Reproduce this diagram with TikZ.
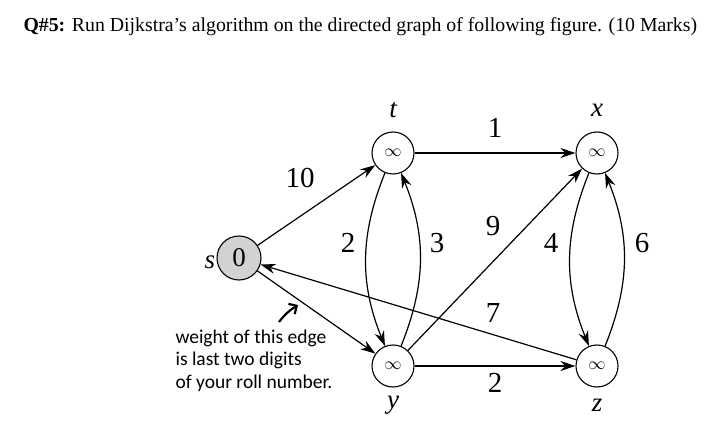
\documentclass[tikz,border=0pt]{standalone}
\usepackage{fontspec}
\setmainfont{Liberation Serif}
\newfontfamily\sansf{Carlito}
\usetikzlibrary{arrows.meta}
\begin{document}
\begin{tikzpicture}[x=1pt,y=-1pt,
  vert/.style={circle,draw,line width=1.1pt,minimum size=42pt,inner sep=0pt,font=\fontsize{19}{19}\selectfont},
  edge/.style={-{Stealth[length=15pt,width=10pt]},line width=1.2pt},
  wt/.style={font=\fontsize{29}{29}\selectfont},
  nm/.style={font=\fontsize{27}{27}\selectfont\itshape}]
\useasboundingbox (0,0) rectangle (717,443);
\node[anchor=west,font=\fontsize{19.8}{22}\selectfont] (title) at (20,27) {\textbf{Q\#5:} Run Dijkstra’s algorithm on the directed graph of following figure. (10 Marks)};
\node[vert,fill=gray!35,minimum size=44pt,font=\fontsize{27}{27}\selectfont] (s) at (239,258) {0};
\node[vert] (t) at (393,153) {$\infty$};
\node[vert] (x) at (597,153) {$\infty$};
\node[vert] (y) at (393,366) {$\infty$};
\node[vert] (z) at (597,366) {$\infty$};
\node[nm] (ls) at (210,262) {s};
\node[nm] (lt) at (393,110) {t};
\node[nm] (lx) at (597,110) {x};
\node[nm] (ly) at (393,405) {y};
\node[nm] (lz) at (597,405) {z};
\draw[edge] (s) -- (t);
\draw[edge] (s) -- (y);
\draw[edge] (t) -- (x);
\draw[edge] (t) to[bend right=22] (y);
\draw[edge] (y) to[bend right=22] (t);
\draw[edge] (y) -- (x);
\draw[edge] (x) to[bend right=22] (z);
\draw[edge] (z) to[bend right=22] (x);
\draw[edge] (z) -- (s);
\draw[edge] (y) -- (z);
\node[wt] (w10) at (300,178) {10};
\node[wt] (w1) at (495,128) {1};
\node[wt] (w2a) at (348,243) {2};
\node[wt] (w3) at (437,243) {3};
\node[wt] (w9) at (493,226) {9};
\node[wt] (w4) at (551,243) {4};
\node[wt] (w6) at (642,243) {6};
\node[wt] (w7) at (493,313) {7};
\node[wt] (w2b) at (495,383) {2};
\node[anchor=north west,align=left,font=\sansf\fontsize{19.5}{22.5}\selectfont] (note) at (172,326) {weight of this edge\\is last two digits\\of your roll number.};
\coordinate (h1) at (279,322);
\coordinate (h2) at (298,305);
\draw[line width=2.2pt,-{Straight Barb[length=6pt]}] (h1) to[bend left=10] (h2);
\end{tikzpicture}
\end{document}
